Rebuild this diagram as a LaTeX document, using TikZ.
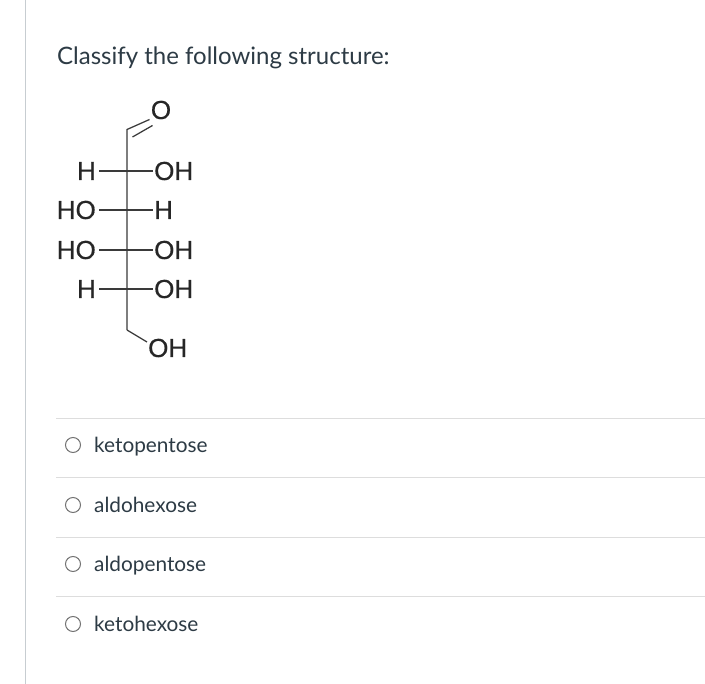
\documentclass[tikz,border=0pt]{standalone}
\usepackage{fontspec}
\usetikzlibrary{calc}
\setmainfont{Lato}
\newfontfamily\chemfont[FakeBold=0.6]{Liberation Sans}
\definecolor{txt}{HTML}{2D3B45}
\definecolor{rule}{HTML}{DDDDDD}
\definecolor{border}{HTML}{C7CDD1}
\definecolor{bond}{HTML}{3A3A3A}
\begin{document}
\begin{tikzpicture}[x=1pt,y=-1pt,
  chem/.style={font=\chemfont\fontsize{26}{26}\selectfont, text=black!85, inner sep=0pt},
  bondline/.style={draw=bond, line width=1.25pt},
  opt/.style={font=\fontsize{20.8}{20.8}\selectfont, text=txt, anchor=base west, inner sep=0pt},
  radio/.style={circle, draw=black!55, line width=1pt, minimum size=15pt, inner sep=0pt},
  sep/.style={draw=rule, line width=1pt}]
\useasboundingbox (0,0) rectangle (705,684);
\fill[white] (0,0) rectangle (705,684);
\draw[draw=border, line width=1pt] (25.5,0) -- (25.5,684);
\node[font=\fontsize{24}{24}\selectfont, text=txt, anchor=base west, inner sep=0pt] (title) at (57,65) {Classify the following structure:};
% Fischer projection
\coordinate (ctop) at (127,129.5);
\coordinate (cbot) at (127,330);
\coordinate (ch2) at (147,342);
\node[chem] (o) at (161,110) {O};
\coordinate (oa) at (149.5,119.5);
\coordinate (ib) at (132.5,137);
\coordinate (ie) at (152.5,125.5);
\draw[bondline] (cbot) -- (ctop) -- (oa);
\draw[bondline] (ib) -- (ie);
\foreach \n/\y/\l/\r in {2/171/H/OH, 3/210/HO/H, 4/250/HO/OH, 5/289/H/OH}{
  \node[chem, anchor=east] (l\n) at (96,\y) {\l};
  \node[chem, anchor=west] (r\n) at (154,\y) {\r};
  \draw[bondline] ($(l\n.east)+(3,0)$) -- ($(r\n.west)+(-1,0)$);
}
\node[chem, anchor=west] (oh6) at (148,348) {OH};
\draw[bondline] (cbot) -- (ch2);
% options
\draw[sep] (56,418.5) -- (705,418.5);
\draw[sep] (56,477.5) -- (705,477.5);
\draw[sep] (56,537.5) -- (705,537.5);
\draw[sep] (56,596.5) -- (705,596.5);
\node[radio] (r1) at (73,445) {};
\node[opt] (t1) at (94,453) {ketopentose};
\node[radio] (r2) at (73,505) {};
\node[opt] (t2) at (94,513) {aldohexose};
\node[radio] (r3) at (73,564) {};
\node[opt] (t3) at (94,572) {aldopentose};
\node[radio] (r4) at (73,624) {};
\node[opt] (t4) at (94,632) {ketohexose};
\end{tikzpicture}
\end{document}
